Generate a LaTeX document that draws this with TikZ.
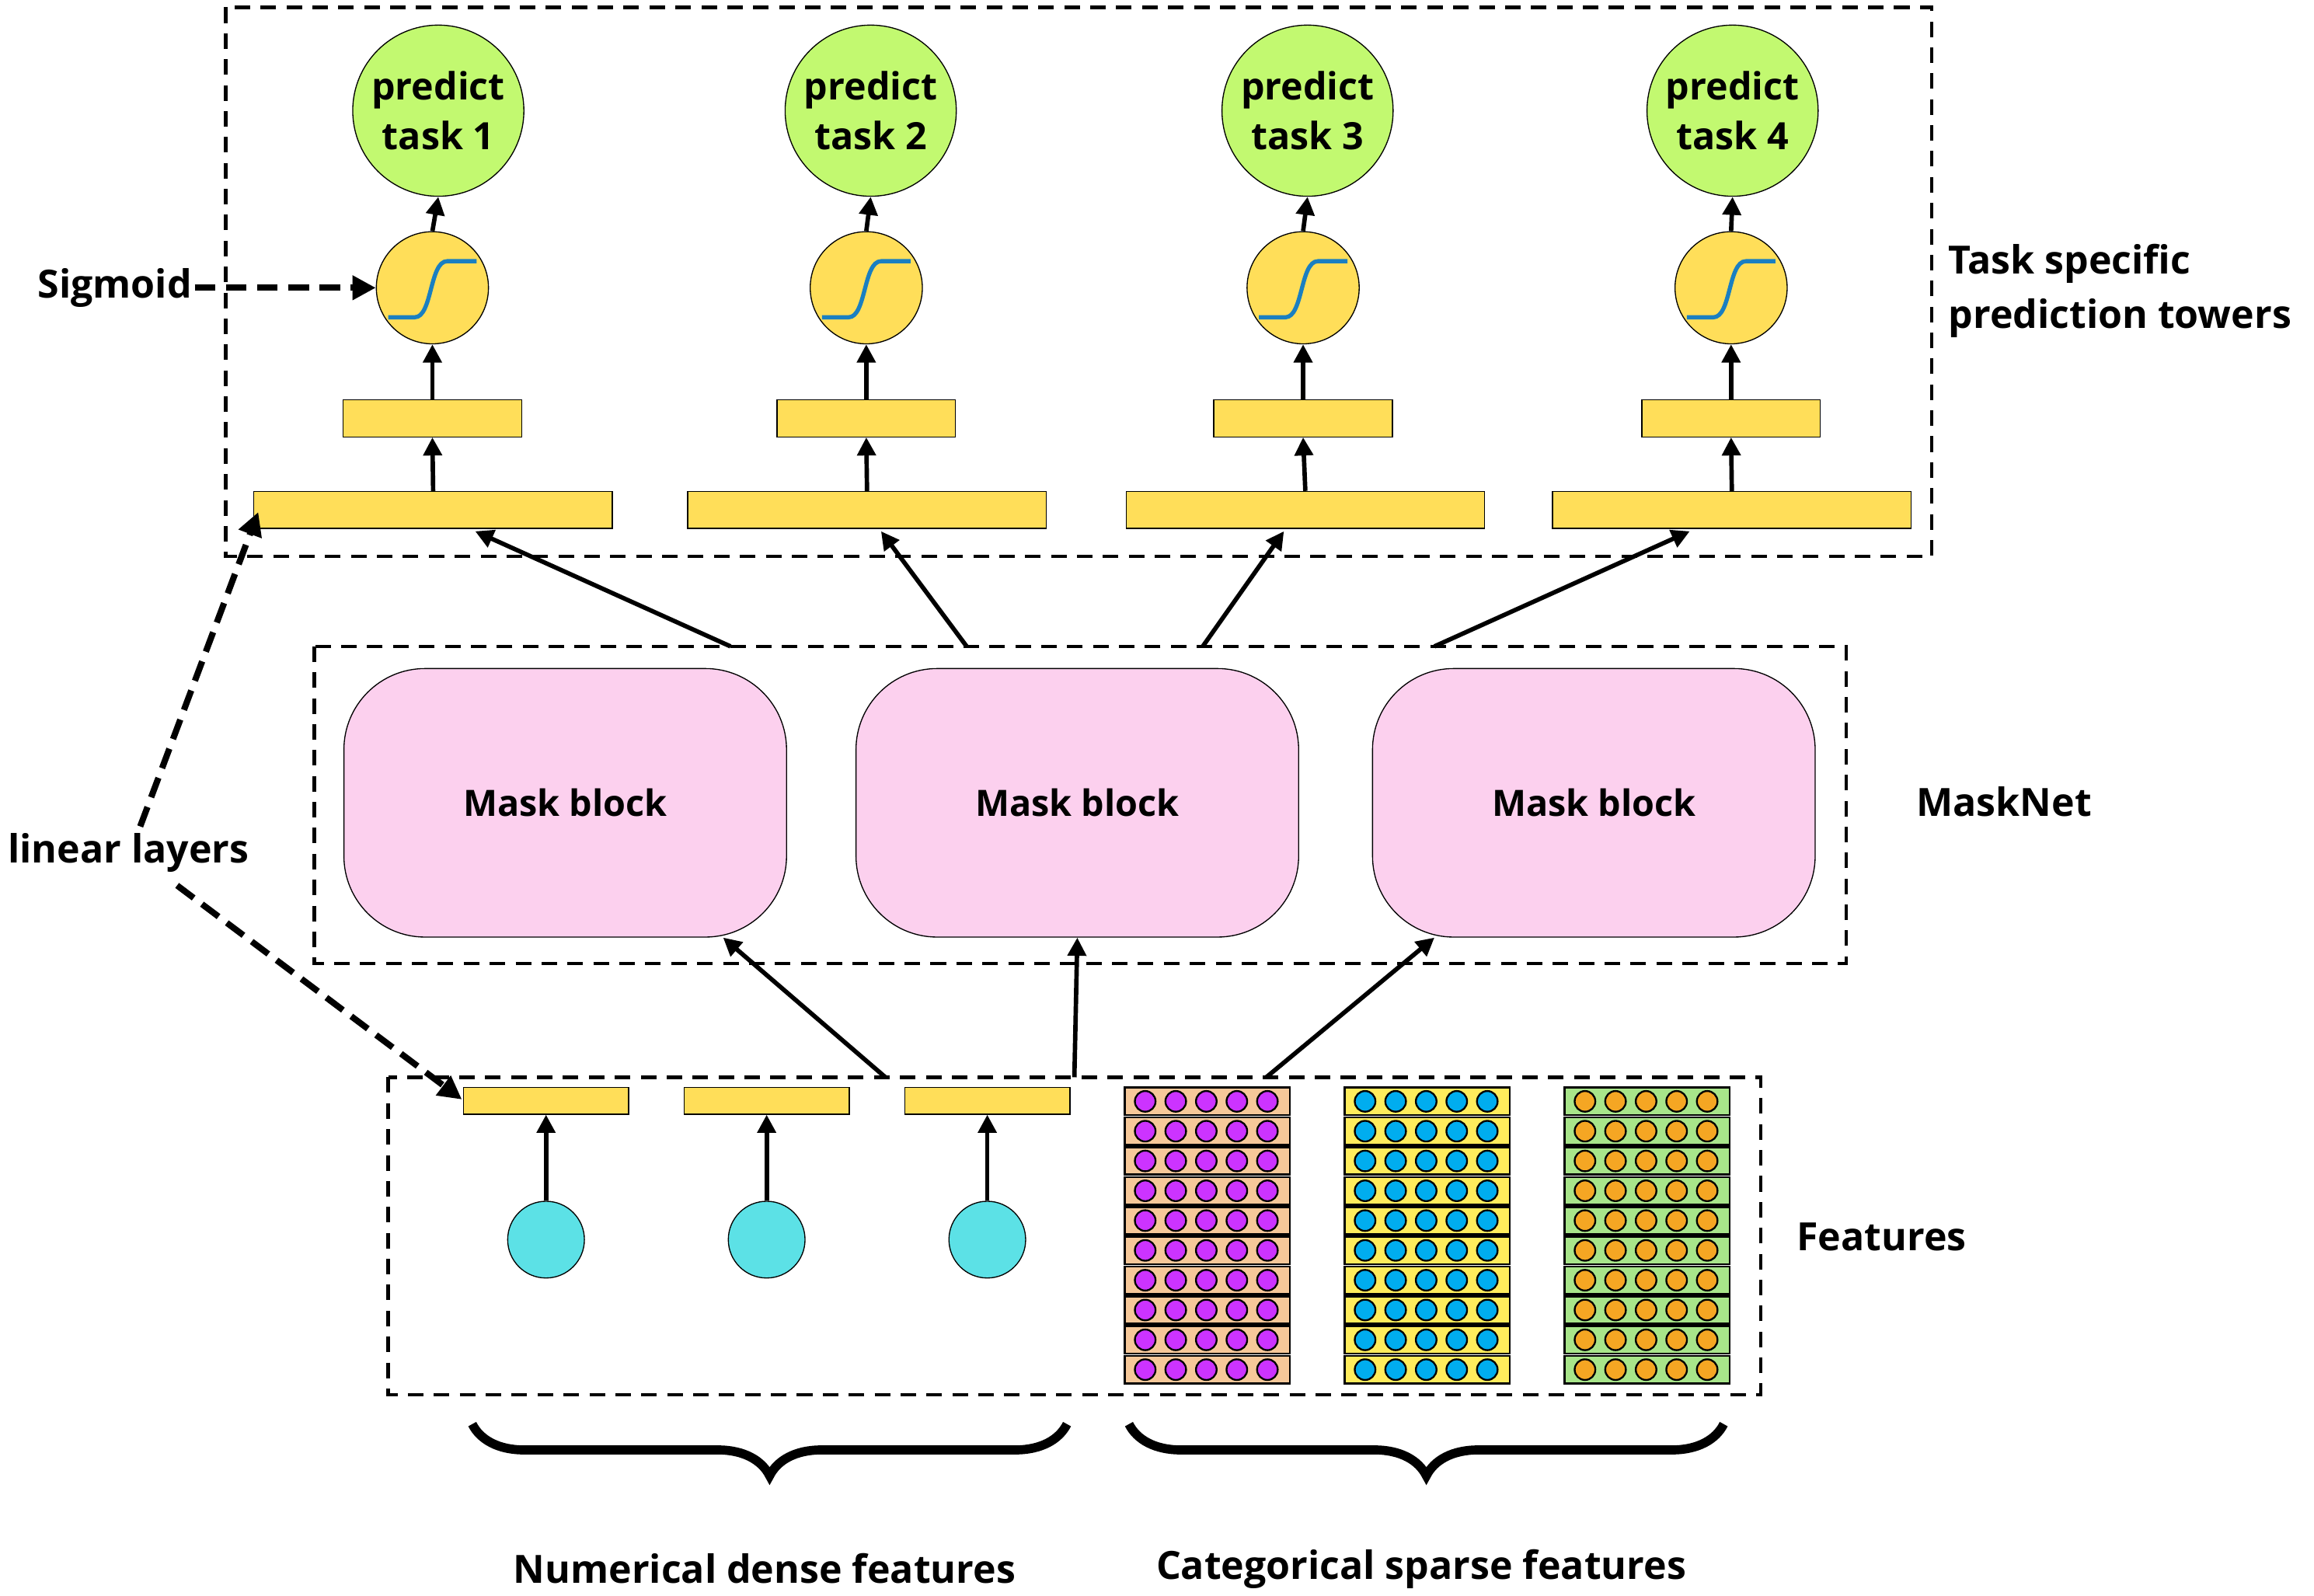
\documentclass[tikz,border=0pt]{standalone}
\usepackage{fontspec}
\setmainfont{Open Sans}
\usetikzlibrary{arrows.meta,decorations.pathreplacing,calc}
\definecolor{cgreen}{HTML}{C2F970}
\definecolor{cyel}{HTML}{FFDE59}
\definecolor{cpink}{HTML}{FCD0EE}
\definecolor{ccyan}{HTML}{5CE1E6}
\definecolor{cpeach}{HTML}{F6C899}
\definecolor{cpurp}{HTML}{CC33FF}
\definecolor{cyel2}{HTML}{FFEC5C}
\definecolor{cblue}{HTML}{00ADEF}
\definecolor{cgr2}{HTML}{A8E58A}
\definecolor{corng}{HTML}{F5A623}
\definecolor{csig}{HTML}{1A7FC1}
\begin{document}
\begin{tikzpicture}[x=0.02cm,y=-0.02cm,
  font=\bfseries\fontsize{15}{19}\selectfont,
  dbox/.style={draw,dashed,line width=1.3pt,dash pattern=on 6pt off 4pt},
  pred/.style={circle,draw,thin,fill=cgreen,minimum size=2.32cm,inner sep=0pt,align=center,font=\bfseries\fontsize{14.5}{19}\selectfont},
  sig/.style={circle,draw,thin,fill=cyel,minimum size=1.52cm,inner sep=0pt},
  sbar/.style={draw,thin,fill=cyel,minimum width=2.42cm,minimum height=0.5cm,inner sep=0pt},
  wbar/.style={draw,thin,fill=cyel,minimum width=4.86cm,minimum height=0.5cm,inner sep=0pt},
  fbar/.style={draw,thin,fill=cyel,minimum width=2.24cm,minimum height=0.36cm,inner sep=0pt},
  mask/.style={draw,thin,fill=cpink,rounded corners=1.1cm,minimum width=6cm,minimum height=3.64cm,font=\bfseries\fontsize{14}{17}\selectfont},
  dcirc/.style={circle,draw,thin,fill=ccyan,minimum size=1.04cm,inner sep=0pt},
  arr/.style={-{Triangle[length=7pt,width=7pt]},line width=1.7pt},
  darr/.style={-{Triangle[length=9pt,width=9pt]},line width=2.4pt,dash pattern=on 8pt off 4pt},
  lbl/.style={align=left,inner sep=0pt}]
\path[use as bounding box] (0,0) rectangle (1568,1081);
% boxes
\draw[dbox] (153,5) rectangle (1309,377);
\draw[dbox] (213,438) rectangle (1251,653);
\draw[dbox] (263,730) rectangle (1193,945);
% towers
\foreach \i/\px/\sx/\wx in {1/297/293/293.5, 2/590/587/587.5, 3/886/883/884.5, 4/1174/1173/1173.5}{
  \node[pred] (p\i) at (\px,75) {predict\\task \i};
  \node[sig] (s\i) at (\sx,195) {};
  \draw[csig,line width=1.6pt] ($(s\i)+(-30,20)$) -- ($(s\i)+(-12,20)$) .. controls ($(s\i)+(0,20)$) and ($(s\i)+(-2,-18)$) .. ($(s\i)+(10,-18)$) -- ($(s\i)+(30,-18)$);
  \node[sbar] (b\i) at (\sx,283.5) {};
  \node[wbar] (w\i) at (\wx,345.5) {};
  \draw[arr] (w\i.north) -- (b\i.south);
  \draw[arr] (b\i.north) -- (s\i.south);
  \draw[arr] (s\i.north) -- (p\i.south);
}
\node[lbl,anchor=west,font=\bfseries\fontsize{15}{21}\selectfont] (tsp) at (1320,197) {Task specific\\prediction towers};
\node[anchor=east,inner sep=1pt] (sgl) at (132,195) {Sigmoid};
\draw[darr] (sgl.east) -- (s1.west);
% masknet
\node[mask] (m1) at (383,544) {Mask block};
\node[mask] (m2) at (730,544) {Mask block};
\node[mask] (m3) at (1080,544) {Mask block};
\node[anchor=center] (mn) at (1358,543) {MaskNet};
\coordinate (mt1) at (495,438); \coordinate (mt2) at (655,438);
\coordinate (mt3) at (815,438); \coordinate (mt4) at (972,438);
\coordinate (wt1) at (322,360); \coordinate (wt2) at (597,360);
\coordinate (wt3) at (870,360); \coordinate (wt4) at (1145,360);
\foreach \i in {1,2,3,4} \draw[arr] (mt\i) -- (wt\i);
% features
\foreach \i/\x in {1/370,2/519.5,3/669}{
  \node[fbar] (f\i) at (\x,746) {};
  \node[dcirc] (c\i) at (\x,840) {};
  \draw[arr] (c\i.north) -- (f\i.south);
}
\coordinate (ft1) at (600,730); \coordinate (ft2) at (728,730); \coordinate (ft3) at (858,730);
\draw[arr] (ft1) -- ($(m1.south)+(107,0)$);
\draw[arr] (ft2) -- (m2.south);
\draw[arr] (ft3) -- ($(m3.south)+(-108,0)$);
% sparse columns
\foreach \x/\bg/\fg in {762/cpeach/cpurp, 911/cyel2/cblue, 1060/cgr2/corng}{
  \foreach \r in {0,...,9}{
    \pgfmathsetmacro{\yt}{737+\r*20.2}
    \draw[fill=\bg,line width=0.8pt] (\x,\yt) rectangle ++(112,18.6);
    \foreach \c in {0,...,4}
      \draw[fill=\fg,line width=0.7pt] (\x+14+\c*20.7,\yt+9.3) circle[radius=0.14cm];
  }
}
\node (ft) at (1275,838) {Features};
% linear layers
\node[inner sep=1pt] (ll) at (87,578) {linear layers};
\coordinate (l1) at (175,347); \coordinate (l2) at (313,745);
\draw[darr] (95,560) -- (l1);
\draw[darr] (120,600) -- (l2);
% braces
\draw[line width=3.5pt,decorate,decoration={brace,mirror,amplitude=0.7cm}] (320,965) -- (723,965);
\draw[line width=3.5pt,decorate,decoration={brace,mirror,amplitude=0.7cm}] (765,965) -- (1168,965);
\node (nd) at (518,1063) {Numerical dense features};
\node (cs) at (963,1063) {Categorical sparse features};
\end{tikzpicture}
\end{document}
